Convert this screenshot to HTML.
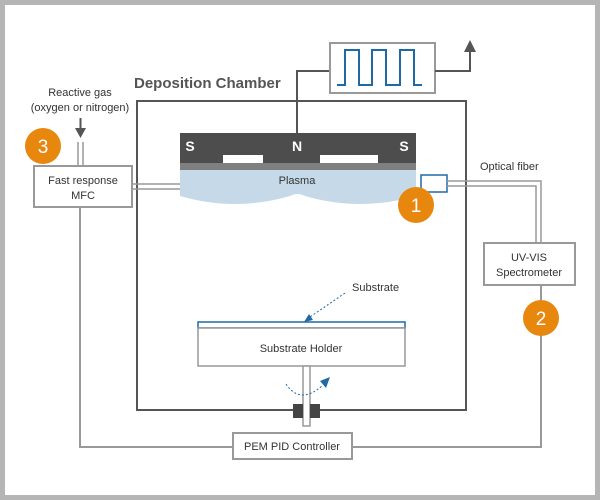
<!DOCTYPE html>
<html><head><style>
body{margin:0;width:600px;height:500px;overflow:hidden;background:#fff}
svg{display:block}
text{font-family:"Liberation Sans",sans-serif;fill:#333}
</style></head><body>
<svg width="600" height="500" viewBox="0 0 600 500">
<rect x="2.5" y="2.5" width="595" height="495" fill="#fff" stroke="#b5b5b5" stroke-width="5"/>
<!-- chamber -->
<rect x="137" y="101" width="329" height="309" fill="none" stroke="#555" stroke-width="2"/>
<text x="134" y="88" font-size="15" font-weight="bold" fill="#555" style="fill:#555">Deposition Chamber</text>
<!-- pulse -->
<polyline points="297,133 297,71 330,71" fill="none" stroke="#555" stroke-width="2"/>
<rect x="330" y="43" width="105" height="50" fill="#fff" stroke="#999" stroke-width="2"/>
<polyline points="337,85 345,85 345,50 359,50 359,85 372,85 372,50 386,50 386,85 400,85 400,50 414,50 414,85 422,85" fill="none" stroke="#1f6aa5" stroke-width="2"/>
<polyline points="435,71 470,71 470,50" fill="none" stroke="#555" stroke-width="2"/>
<polygon points="464,52 476,52 470,40" fill="#555"/>
<!-- plasma -->
<path d="M180,170 H416 V196 Q360,212 305,196 Q297,192 290,196 Q235,212 180,196 Z" fill="#c5d9e8"/>
<rect x="180" y="133" width="236" height="30" fill="#4d4d4d"/>
<rect x="180" y="163" width="236" height="7" fill="#7f7f7f"/>
<rect x="223" y="155" width="40" height="8" fill="#fff"/>
<rect x="320" y="155" width="58" height="8" fill="#fff"/>
<text x="190" y="151" font-size="14" font-weight="bold" style="fill:#fff" text-anchor="middle">S</text>
<text x="297" y="151" font-size="14" font-weight="bold" style="fill:#fff" text-anchor="middle">N</text>
<text x="404" y="151" font-size="14" font-weight="bold" style="fill:#fff" text-anchor="middle">S</text>
<text x="297" y="184" font-size="11" text-anchor="middle">Plasma</text>
<!-- fiber -->
<rect x="421" y="175" width="26" height="17" fill="#fff" stroke="#1f6aa5" stroke-width="1.5"/>
<polyline points="447,181 541,181 541,243" fill="none" stroke="#999" stroke-width="1.5"/>
<polyline points="447,186 536,186 536,243" fill="none" stroke="#999" stroke-width="1.5"/>
<text x="480" y="170" font-size="11">Optical fiber</text>
<circle cx="416" cy="205" r="18" fill="#e8870e"/>
<text x="416" y="212" font-size="19" style="fill:#fff" text-anchor="middle">1</text>
<!-- spectrometer -->
<polyline points="541,285 541,447 80,447 80,207" fill="none" stroke="#999" stroke-width="2"/>
<rect x="484" y="243" width="91" height="42" fill="#fff" stroke="#999" stroke-width="2"/>
<text x="529" y="261" font-size="11" text-anchor="middle">UV-VIS</text>
<text x="529" y="276" font-size="11" text-anchor="middle">Spectrometer</text>
<circle cx="541" cy="318" r="18" fill="#e8870e"/>
<text x="541" y="325" font-size="19" style="fill:#fff" text-anchor="middle">2</text>
<!-- PID -->
<rect x="233" y="433" width="119" height="26" fill="#fff" stroke="#999" stroke-width="2"/>
<text x="292" y="450" font-size="11" text-anchor="middle">PEM PID Controller</text>
<!-- MFC -->
<line x1="132" y1="184" x2="180" y2="184" stroke="#999" stroke-width="1.5"/>
<line x1="132" y1="189" x2="180" y2="189" stroke="#999" stroke-width="1.5"/>
<rect x="34" y="166" width="98" height="41" fill="#fff" stroke="#999" stroke-width="2"/>
<text x="83" y="184" font-size="11" text-anchor="middle">Fast response</text>
<text x="83" y="199" font-size="11" text-anchor="middle">MFC</text>
<line x1="78" y1="142" x2="78" y2="166" stroke="#999" stroke-width="1.5"/>
<line x1="83" y1="142" x2="83" y2="166" stroke="#999" stroke-width="1.5"/>
<line x1="80.5" y1="118" x2="80.5" y2="130" stroke="#555" stroke-width="2"/>
<polygon points="75,128 86,128 80.5,138" fill="#555"/>
<text x="80" y="96" font-size="11" text-anchor="middle">Reactive gas</text>
<text x="80" y="111" font-size="11" text-anchor="middle">(oxygen or nitrogen)</text>
<circle cx="43" cy="146" r="18" fill="#e8870e"/>
<text x="43" y="153" font-size="19" style="fill:#fff" text-anchor="middle">3</text>
<!-- substrate -->
<rect x="198" y="322" width="207" height="6" fill="#fff" stroke="#1f6aa5" stroke-width="1.5"/>
<rect x="198" y="328" width="207" height="38" fill="#fff" stroke="#999" stroke-width="1.5"/>
<text x="301" y="352" font-size="11" text-anchor="middle">Substrate Holder</text>
<text x="352" y="291" font-size="11">Substrate</text>
<line x1="345" y1="293" x2="310" y2="317" stroke="#1f6aa5" stroke-width="1" stroke-dasharray="2,2"/>
<polygon points="304,322 313,320 309,314" fill="#1f6aa5"/>
<rect x="303" y="366" width="7" height="60" fill="#fff" stroke="#999" stroke-width="1.5"/>
<rect x="293" y="404" width="10" height="14" fill="#444"/>
<rect x="310" y="404" width="10" height="14" fill="#444"/>
<path d="M286,384 Q300,405 322,386" fill="none" stroke="#1f6aa5" stroke-width="1" stroke-dasharray="2,2"/>
<polygon points="330,377 320,381 326,388" fill="#1f6aa5"/>
</svg>
</body></html>
